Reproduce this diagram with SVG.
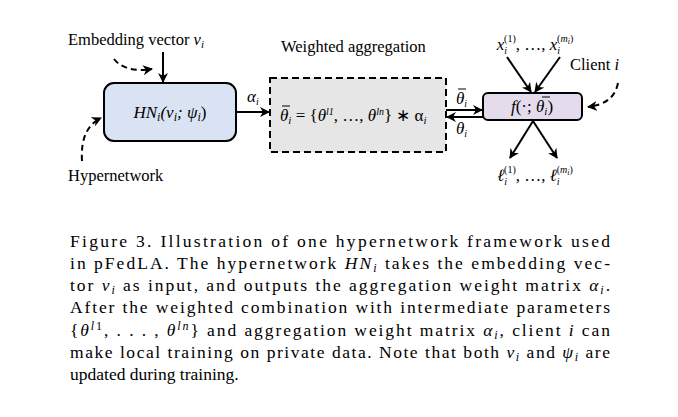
<svg xmlns="http://www.w3.org/2000/svg" width="678" height="417" viewBox="0 0 678 417" font-family="Liberation Serif, Times New Roman, serif">
<style>
text{font-family:'Liberation Serif','Times New Roman',serif;fill:#000}
.lbl{font-size:16.5px}
.m{font-size:17px;font-style:italic}
.cap{font-size:17.5px}
.ln{stroke:#000;stroke-width:2;fill:none}
.ds{stroke:#000;stroke-width:2;fill:none;stroke-dasharray:6,4}
.ob{stroke:#000;stroke-width:1}
</style>
<defs>
<marker id="ah" viewBox="0 0 10 10" refX="9" refY="5" markerWidth="5" markerHeight="5" orient="auto"><path d="M0,0 L10,5 L0,10 L3,5 Z" fill="#000"/></marker>
</defs>
<rect width="678" height="417" fill="#fff"/>
<g id="hn">
<rect x="104" y="83" width="132" height="58" rx="10" fill="#dae3f3" stroke="#000" stroke-width="2"/>
<text x="170" y="118" class="m" text-anchor="middle">HN<tspan font-size="12" dy="3">i</tspan><tspan dy="-3">(v</tspan><tspan font-size="12" dy="3">i</tspan><tspan dy="-3">; ψ</tspan><tspan font-size="12" dy="3">i</tspan><tspan dy="-3" font-style="normal">)</tspan></text>
</g>
<g id="agg">
<rect x="270" y="78" width="176" height="74" fill="#e7e6e6" stroke="#000" stroke-width="2" stroke-dasharray="7,4"/>
<text x="280" y="121" class="m">θ<tspan font-size="11" dy="3">i</tspan><tspan dy="-3" font-style="normal"> = {</tspan>θ<tspan font-size="10" dy="-6">l1</tspan><tspan dy="6" font-style="normal">, …, </tspan>θ<tspan font-size="10" dy="-6">ln</tspan><tspan dy="6" font-style="normal">} ∗ α</tspan><tspan font-size="11" dy="3">i</tspan></text>
<line class="ob" x1="282" y1="106" x2="290" y2="106"/>
<text x="281" y="52" class="lbl">Weighted aggregation</text>
</g>
<g id="client">
<rect x="483" y="93" width="99" height="27" rx="5" fill="#e4dcec" stroke="#000" stroke-width="2"/>
<text x="532" y="112" class="m" text-anchor="middle">f<tspan font-style="normal">(·; </tspan>θ<tspan font-size="11" dy="3">i</tspan><tspan dy="-3" font-style="normal">)</tspan></text>
<line class="ob" x1="542" y1="97" x2="550" y2="97"/>
<text x="570" y="70" class="lbl">Client <tspan font-style="italic">i</tspan></text>
<text x="535" y="50" class="m" text-anchor="middle">x<tspan font-size="10" dy="4">i</tspan><tspan font-size="10" dy="-12" dx="-3" font-style="normal">(1)</tspan><tspan dy="8" font-style="normal">, …, </tspan>x<tspan font-size="10" dy="4">i</tspan><tspan font-size="10" dy="-12" dx="-3" font-style="normal">(</tspan><tspan font-size="10">m</tspan><tspan font-size="8" dy="2">i</tspan><tspan font-size="10" dy="-2" font-style="normal">)</tspan></text>
<text x="535" y="181" class="m" text-anchor="middle">ℓ<tspan font-size="10" dy="4">i</tspan><tspan font-size="10" dy="-12" dx="-3" font-style="normal">(1)</tspan><tspan dy="8" font-style="normal">, …, </tspan>ℓ<tspan font-size="10" dy="4">i</tspan><tspan font-size="10" dy="-12" dx="-3" font-style="normal">(</tspan><tspan font-size="10">m</tspan><tspan font-size="8" dy="2">i</tspan><tspan font-size="10" dy="-2" font-style="normal">)</tspan></text>
</g>
<g id="labels">
<text x="68" y="45" class="lbl">Embedding vector <tspan font-style="italic">v</tspan><tspan font-size="11" font-style="italic" dy="3">i</tspan></text>
<text x="68" y="181" class="lbl">Hypernetwork</text>
</g>
<g id="connectors">
<path class="ln" d="M163,52 V82" marker-end="url(#ah)"/>
<path class="ds" d="M114,59 Q125,73 152,69" marker-end="url(#ah)"/>
<path class="ds" d="M82,161 Q80,128 101,118" marker-end="url(#ah)"/>
<path class="ln" d="M236,112 H269" marker-end="url(#ah)"/>
<text x="247" y="102" class="m">α<tspan font-size="10" dy="3">i</tspan></text>
<path class="ln" d="M446,110 H482" marker-end="url(#ah)"/>
<path class="ln" d="M483,117 H447" marker-end="url(#ah)"/>
<text x="456" y="104" class="m">θ<tspan font-size="10" dy="3">i</tspan></text>
<line class="ob" x1="458" y1="89" x2="466" y2="89"/>
<text x="456" y="134" class="m">θ<tspan font-size="10" dy="3">i</tspan></text>
<path class="ln" d="M507,57 L531,92" marker-end="url(#ah)"/>
<path class="ln" d="M560,57 L535,92" marker-end="url(#ah)"/>
<path class="ln" d="M533,121 L510,158" marker-end="url(#ah)"/>
<path class="ln" d="M533,121 L557,158" marker-end="url(#ah)"/>
<path class="ds" d="M618,83 Q614,104 588,107" marker-end="url(#ah)"/>
</g>
<g id="caption" class="cap">
<text x="70" y="247" textLength="540" lengthAdjust="spacing">Figure 3.   Illustration of one hypernetwork framework used</text>
<text x="70" y="269" textLength="540" lengthAdjust="spacing">in pFedLA. The hypernetwork <tspan font-style="italic">HN</tspan><tspan font-style="italic" font-size="12" dy="3">i</tspan><tspan dy="-3"> takes the embedding vec-</tspan></text>
<text x="70" y="291" textLength="540" lengthAdjust="spacing">tor <tspan font-style="italic">v</tspan><tspan font-style="italic" font-size="12" dy="3">i</tspan><tspan dy="-3"> as input, and outputs the aggregation weight matrix </tspan><tspan font-style="italic">α</tspan><tspan font-style="italic" font-size="12" dy="3">i</tspan><tspan dy="-3">.</tspan></text>
<text x="70" y="313" textLength="540" lengthAdjust="spacing">After the weighted combination with intermediate parameters</text>
<text x="70" y="336" textLength="540" lengthAdjust="spacing">{<tspan font-style="italic">θ</tspan><tspan font-style="italic" font-size="12" dy="-6">l</tspan><tspan font-size="12">1</tspan><tspan dy="6">, . . . , </tspan><tspan font-style="italic">θ</tspan><tspan font-style="italic" font-size="12" dy="-6">ln</tspan><tspan dy="6">} and aggregation weight matrix </tspan><tspan font-style="italic">α</tspan><tspan font-style="italic" font-size="12" dy="3">i</tspan><tspan dy="-3">, client </tspan><tspan font-style="italic">i</tspan> can</text>
<text x="70" y="358" textLength="540" lengthAdjust="spacing">make local training on private data. Note that both <tspan font-style="italic">v</tspan><tspan font-style="italic" font-size="12" dy="3">i</tspan><tspan dy="-3"> and </tspan><tspan font-style="italic">ψ</tspan><tspan font-style="italic" font-size="12" dy="3">i</tspan><tspan dy="-3"> are</tspan></text>
<text x="70" y="380">updated during training.</text>
</g>
</svg>
